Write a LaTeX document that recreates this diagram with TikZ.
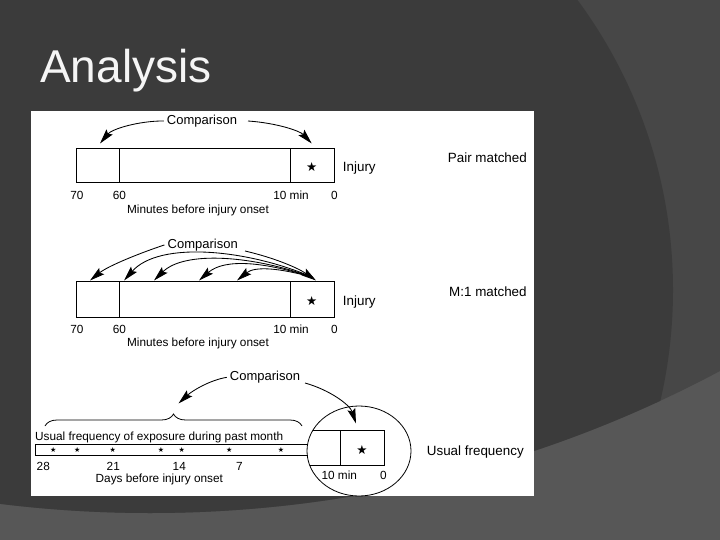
\documentclass[tikz,border=0pt]{standalone}
\usepackage{fontspec}
\setmainfont{Liberation Sans}
\newfontfamily\symfont{DejaVu Sans}
\usetikzlibrary{arrows.meta,shapes.geometric,decorations.pathreplacing}
\definecolor{bgdark}{HTML}{3B3B3B}
\definecolor{bgright}{HTML}{474747}
\definecolor{bgband}{HTML}{575757}
\begin{document}
\begin{tikzpicture}[x=1pt,y=-1pt,
  lbl/.style={font=\fontsize{11.8}{13}\selectfont, inner sep=0pt, anchor=base},
  cmp/.style={font=\fontsize{13}{15}\selectfont, inner sep=3pt, anchor=base},
  side/.style={font=\fontsize{13.4}{15}\selectfont, inner sep=0pt, anchor=base west},
  cell/.style={draw, line width=0.8pt, inner sep=0pt},
  arr/.style={line width=0.85pt, -{Stealth[length=15pt,width=8pt,inset=2.5pt]}},
  bigstar/.style={font=\symfont\fontsize{12.5}{13}\selectfont, inner sep=0pt},
  smallstar/.style={font=\symfont\fontsize{7}{8}\selectfont, inner sep=0pt}]
\useasboundingbox (0,0) rectangle (720,540);
% background
\fill[bgband] (0,0) rectangle (720,540);
\begin{scope}
  \clip (150,-700) circle[radius=1213pt];
  \fill[bgright] (0,0) rectangle (720,540);
  \fill[bgdark] (185,290) circle[radius=488pt];
\end{scope}
% title
\node[font=\fontsize{46}{50}\selectfont, text=white!96!black, inner sep=0pt, anchor=base west] (title) at (40,83) {Analysis};
% white panel
\fill[white] (31,111) rectangle (534,496);

% ---------- panel 1: pair matched ----------
\node[cell, minimum width=43.3pt, minimum height=34.4pt] (p1a) at (97.65,165.5) {};
\node[cell, minimum width=171.4pt, minimum height=34.4pt] (p1b) at (205,165.5) {};
\node[cell, minimum width=43.6pt, minimum height=34.4pt] (p1c) at (312.5,165.5) {};
\node[bigstar] (p1s) at (311.7,167.3) {★};
\node[lbl] (p1n70) at (77,199.3) {70};
\node[lbl] (p1n60) at (119.5,199.3) {60};
\node[lbl] (p1n10) at (291,199.3) {10 min};
\node[lbl] (p1n0) at (334.3,199.3) {0};
\node[lbl] (p1ax) at (198,214) {Minutes before injury onset};
\node[side] (p1inj) at (342.7,171.7) {Injury};
\node[side] (p1ty) at (447.7,162.3) {Pair matched};
\node[cmp] (c1) at (202,124.3) {Comparison};
\coordinate (t1l) at (100,143.5);
\coordinate (t1r) at (311.7,143.5);
\coordinate (c1r) at (248,121);
\draw[arr] (c1.west) .. controls (138,121) and (112,129) .. (t1l);
\draw[arr] (c1r) .. controls (277,123) and (300,131) .. (t1r);

% ---------- panel 2: M:1 matched ----------
\node[cell, minimum width=43.3pt, minimum height=35.6pt] (p2a) at (97.65,299.5) {};
\node[cell, minimum width=171.4pt, minimum height=35.6pt] (p2b) at (205,299.5) {};
\node[cell, minimum width=43.6pt, minimum height=35.6pt] (p2c) at (312.5,299.5) {};
\node[bigstar] (p2s) at (311.7,301) {★};
\node[lbl] (p2n70) at (77,333.3) {70};
\node[lbl] (p2n60) at (119.5,333.3) {60};
\node[lbl] (p2n10) at (291,333.3) {10 min};
\node[lbl] (p2n0) at (334.3,333.3) {0};
\node[lbl] (p2ax) at (198,346.7) {Minutes before injury onset};
\node[side] (p2inj) at (342.7,305.3) {Injury};
\node[side] (p2ty) at (449,296) {M:1 matched};
\node[cmp] (c2) at (202.7,248.3) {Comparison};
\coordinate (t2a) at (90,280.5);
\coordinate (t2b) at (124,280.5);
\coordinate (t2c) at (154,280.5);
\coordinate (t2d) at (199,280.5);
\coordinate (t2e) at (237,280.5);
\coordinate (t2r) at (316,280.5);
\coordinate (fan) at (313,277.5);
\coordinate (c2r) at (245,251);
\draw[arr] (c2.west) .. controls (140,253) and (108,266) .. (t2a);
\draw[arr] (fan) .. controls (250,250) and (160,240) .. (t2b);
\draw[arr] (fan) .. controls (255,256) and (185,250) .. (t2c);
\draw[arr] (fan) .. controls (265,262) and (225,258) .. (t2d);
\draw[arr] (fan) .. controls (280,268) and (255,266) .. (t2e);
\draw[arr] (c2r) .. controls (275,258) and (298,268) .. (t2r);

% ---------- panel 3: usual frequency ----------
\draw[line width=0.8pt] (307.6,444.3) -- (35,444.3) -- (35,455) -- (307.6,455);
\foreach \sx in {53.3,77.3,112.7,161,181.7,229.3,281}
  \node[smallstar] at (\sx,450) {★};
\node[lbl] (p3n28) at (43.3,470) {28};
\node[lbl] (p3n21) at (113.3,470) {21};
\node[lbl] (p3n14) at (179.3,470) {14};
\node[lbl] (p3n7) at (239.3,470) {7};
\node[lbl] (p3ax) at (159.3,482.7) {Days before injury onset};
\node[lbl, anchor=base west] (p3us) at (35,440) {Usual frequency of exposure during past month};
\draw[line width=0.8pt, decorate, decoration={brace, amplitude=12pt}] (45,426) -- (302,426);
\begin{scope}
  \clip (359,451) ellipse [x radius=52pt, y radius=45pt];
  \draw[line width=0.8pt] (300,430) rectangle (384.3,465.7);
  \draw[line width=0.8pt] (340.3,430) -- (340.3,465.7);
\end{scope}
\node[draw, ellipse, line width=0.8pt, minimum width=104pt, minimum height=90pt, inner sep=0pt] (lens) at (359,451) {};
\node[bigstar] (p3s) at (362,450) {★};
\node[lbl] (p3n10) at (339.3,479.3) {10 min};
\node[lbl] (p3n0) at (383.3,479.3) {0};
\node[side] (p3ty) at (426.7,455) {Usual frequency};
\node[cmp] (c3) at (265,380.7) {Comparison};
\coordinate (t3l) at (178.5,403.5);
\coordinate (t3r) at (356,423.5);
\coordinate (c3r) at (305,383);
\draw[arr] (c3.west) .. controls (210,380) and (192,391) .. (t3l);
\draw[arr] (c3r) .. controls (330,390) and (350,405) .. (t3r);
\end{tikzpicture}
\end{document}
